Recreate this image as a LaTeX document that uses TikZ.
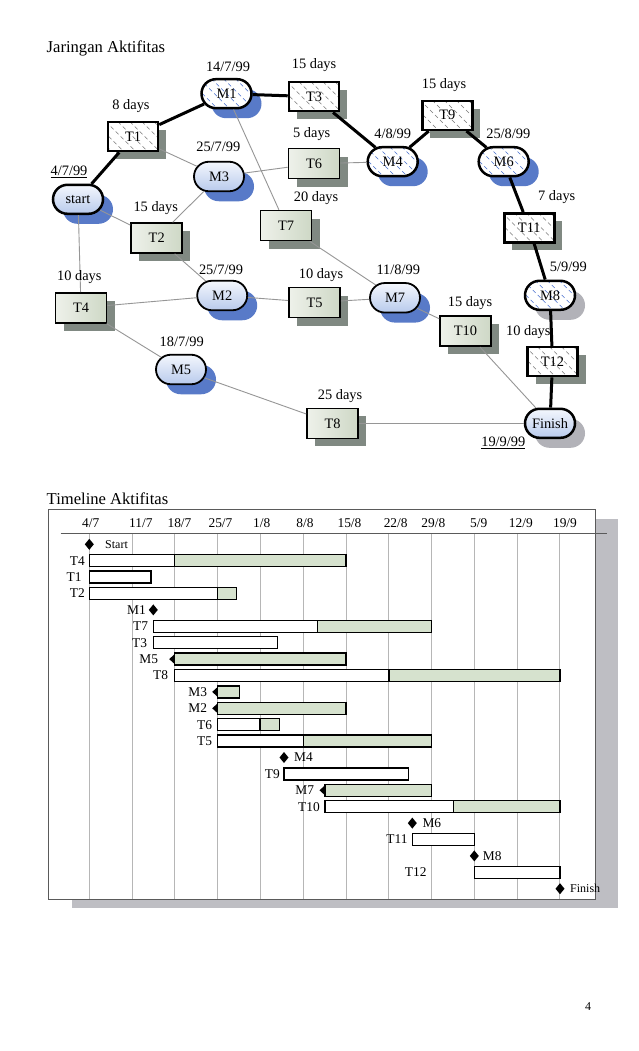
\documentclass[tikz,border=0pt]{standalone}
\usepackage{fontspec}
\setmainfont{Liberation Serif}
\usetikzlibrary{shapes.misc,shadows}
\definecolor{boxL}{RGB}{238,241,234}
\definecolor{boxR}{RGB}{206,216,198}
\definecolor{ellL}{RGB}{244,247,253}
\definecolor{ellD}{RGB}{184,202,236}
\definecolor{shgrey}{RGB}{128,137,130}
\definecolor{shblue}{RGB}{88,122,200}
\definecolor{shlight}{RGB}{178,178,184}
\definecolor{edgegrey}{RGB}{150,150,150}
\definecolor{hatchgrey}{RGB}{120,120,120}
\definecolor{hatchblue}{RGB}{70,110,205}
\definecolor{barfill}{RGB}{214,226,206}
\definecolor{gridgrey}{RGB}{182,182,182}
\definecolor{frameshadow}{RGB}{190,190,195}
\definecolor{framecol}{RGB}{90,90,90}
\newcommand\gbar[4]{\draw[gbar,fill=#4] (#1,#3-6) rectangle (#2,#3+6);}
\newcommand\gdiam[2]{\fill (#1-4.5,#2) -- (#1,#2-5.5) -- (#1+4.5,#2) -- (#1,#2+5.5) -- cycle;}
\newcommand\ghalf[2]{\fill (#1,#2-5) -- (#1-5.5,#2) -- (#1,#2+5) -- cycle;}
\tikzset{
  netfont/.style={font=\fontsize{14.4}{16}\selectfont},
  gfont/.style={font=\fontsize{13.4}{15}\selectfont},
  hatch/.style={path picture={\foreach \k in {-5,...,5}{\draw[#1,line width=0.6pt,dash pattern=on 4pt off 3pt] ([xshift=\k*12pt]path picture bounding box.center) ++(-30pt,30pt) -- ++(60pt,-60pt);}}},
  shg/.style={drop shadow={shadow xshift=8pt,shadow yshift=-8pt,fill=shgrey,opacity=1}},
  shb/.style={drop shadow={shadow xshift=10pt,shadow yshift=-10pt,fill=shblue,opacity=1}},
  shl/.style={drop shadow={shadow xshift=10pt,shadow yshift=-10pt,fill=shlight,opacity=1}},
  task/.style={rectangle, draw=black, line width=1.6pt, minimum width=51pt, minimum height=30pt, inner sep=0pt, left color=boxL, right color=boxR, shg, netfont},
  crittask/.style={rectangle, draw=black, line width=2.5pt, minimum width=50pt, minimum height=29pt, inner sep=0pt, fill=white, hatch=hatchgrey, shg, netfont},
  mile/.style={rounded rectangle, draw=black, line width=1.8pt, minimum width=50pt, minimum height=29.5pt, inner sep=0pt, top color=ellL, bottom color=ellD, shb, netfont},
  critmile/.style={rounded rectangle, draw=black, line width=2.5pt, minimum width=50pt, minimum height=29pt, inner sep=0pt, fill=white, hatch=hatchblue, netfont},
  endmile/.style={rounded rectangle, draw=black, line width=2.5pt, minimum width=50pt, minimum height=29pt, inner sep=0pt, top color=ellL, bottom color=ellD, netfont},
  lbl/.style={inner sep=0pt, netfont},
  crit/.style={line width=3pt, black},
  thin/.style={line width=0.9pt, edgegrey},
  gbar/.style={draw=black, line width=1.4pt},
  glbl/.style={inner sep=0pt, gfont},
}
\begin{document}
\begin{tikzpicture}[x=1pt,y=-1pt]
\useasboundingbox (0,0) rectangle (638,1051);
\fill[white] (0,0) rectangle (638,1051);
% ---------- network ----------
\node[anchor=base west, inner sep=0pt, font=\fontsize{16.6}{18}\selectfont] (title1) at (46.5,53) {Jaringan Aktifitas};

\node[endmile, shb] (start) at (78,199.3) {start};
\node[crittask] (T1) at (133,136.7) {T1};
\node[critmile, shb] (M1) at (226.5,93.7) {M1};
\node[crittask] (T3) at (314,96.7) {T3};
\node[critmile, shb] (M4) at (392.7,161.7) {M4};
\node[crittask] (T9) at (447.3,115.3) {T9};
\node[critmile, shb] (M6) at (503.7,161.7) {M6};
\node[crittask] (T11) at (529.3,227.8) {T11};
\node[critmile, shl] (M8) at (550,295.3) {M8};
\node[crittask] (T12) at (552.5,361.7) {T12};
\node[endmile, shl] (Finish) at (550,423.3) {Finish};
\node[task] (T2) at (156.7,238) {T2};
\node[task] (T4) at (81,307.8) {T4};
\node[mile] (M3) at (219,176.5) {M3};
\node[task] (T6) at (314,163.7) {T6};
\node[task] (T7) at (286,225.5) {T7};
\node[mile] (M2) at (222.2,295.5) {M2};
\node[task] (T5) at (314.5,302.5) {T5};
\node[mile] (M7) at (395,297.8) {M7};
\node[task] (T10) at (465.5,331.2) {T10};
\node[mile] (M5) at (181,369.5) {M5};
\node[task] (T8) at (332.5,423.3) {T8};

\draw[thin] (start) -- (T2);
\draw[thin] (start) -- (T4);
\draw[thin] (T1) -- (M3);
\draw[thin] (M1) -- (T7);
\draw[thin] (T2) -- (M3);
\draw[thin] (T2) -- (M2);
\draw[thin] (T4) -- (M2);
\draw[thin] (T4) -- (M5);
\draw[thin] (M3) -- (T6);
\draw[thin] (T6) -- (M4);
\draw[thin] (T7) -- (M7);
\draw[thin] (M2) -- (T5);
\draw[thin] (T5) -- (M7);
\draw[thin] (M7) -- (T10);
\draw[thin] (T10) -- (Finish);
\draw[thin] (M5) -- (T8);
\draw[thin] (T8) -- (Finish);

\draw[crit] (start) -- (T1);
\draw[crit] (T1) -- (M1);
\draw[crit] (M1) -- (T3);
\draw[crit] (T3) -- (M4);
\draw[crit] (M4) -- (T9);
\draw[crit] (T9) -- (M6);
\draw[crit] (M6) -- (T11);
\draw[crit] (T11) -- (M8);
\draw[crit] (M8) -- (T12);
\draw[crit] (T12) -- (Finish);

\node[lbl] (d0) at (69,172) {\underline{4/7/99}};
\node[lbl] (dT1) at (131,106) {8 days};
\node[lbl] (dM1) at (228,67.3) {14/7/99};
\node[lbl] (dT3) at (314,65) {15 days};
\node[lbl] (dM3) at (218.3,147.3) {25/7/99};
\node[lbl] (dT6) at (311.7,134) {5 days};
\node[lbl] (dM4) at (392.7,133.3) {4/8/99};
\node[lbl] (dT9) at (444,85) {15 days};
\node[lbl] (dM6) at (508.3,133.3) {25/8/99};
\node[lbl] (dT11) at (556.7,196.7) {7 days};
\node[lbl] (dM8) at (568.3,266.7) {5/9/99};
\node[lbl] (dT12) at (528.3,331.7) {10 days};
\node[lbl] (dF) at (503.3,442.7) {\underline{19/9/99}};
\node[lbl] (dT10) at (470,303.3) {15 days};
\node[lbl] (dM7) at (398.3,269.3) {11/8/99};
\node[lbl] (dT5) at (321,275) {10 days};
\node[lbl] (dT8) at (340,395.7) {25 days};
\node[lbl] (dM5) at (181.7,341.7) {18/7/99};
\node[lbl] (dM2) at (221,270) {25/7/99};
\node[lbl] (dT4) at (79.3,276.7) {10 days};
\node[lbl] (dT2) at (155.7,208.3) {15 days};
\node[lbl] (dT7) at (316,198.3) {20 days};

% ---------- timeline ----------
\node[anchor=base west, inner sep=0pt, font=\fontsize{16.6}{18}\selectfont] (title2) at (46.5,504.5) {Timeline Aktifitas};
\fill[frameshadow] (71.7,519.3) rectangle (618.3,908.3);
\draw[draw=framecol, fill=white, line width=1pt] (48.3,509.3) rectangle (595.7,899.3);
\foreach \k in {0,...,11}{\draw[gridgrey, line width=1pt] ({89.3+42.79*\k},533.3) -- ({89.3+42.79*\k},899.3);}
\draw[framecol, line width=1pt] (60.7,533.3) -- (607.3,533.3);
\node[glbl] (h1) at (90.8,523.3) {4/7};
\node[glbl] (h2) at (140.8,523.3) {11/7};
\node[glbl] (h3) at (179.5,523.3) {18/7};
\node[glbl] (h4) at (220.5,523.3) {25/7};
\node[glbl] (h5) at (261.7,523.3) {1/8};
\node[glbl] (h6) at (305,523.3) {8/8};
\node[glbl] (h7) at (349.5,523.3) {15/8};
\node[glbl] (h8) at (395.7,523.3) {22/8};
\node[glbl] (h9) at (433.3,523.3) {29/8};
\node[glbl] (h10) at (478.7,523.3) {5/9};
\node[glbl] (h11) at (520.8,523.3) {12/9};
\node[glbl] (h12) at (565,523.3) {19/9};

% rows
\gdiam{89.3}{544.3}
\node[glbl, anchor=west, font=\fontsize{12}{14}\selectfont] (gStart) at (105,544.3) {Start};
\gbar{89.3}{174.7}{560.7}{white}\gbar{174.7}{346}{560.7}{barfill}
\node[glbl, anchor=east] (gT4) at (85,560.7) {T4};
\gbar{89.3}{151}{577.1}{white}
\node[glbl, anchor=east] (gT1) at (81.7,577.1) {T1};
\gbar{89.3}{217.3}{593.5}{white}\gbar{217.3}{236.7}{593.5}{barfill}
\node[glbl, anchor=east] (gT2) at (85,593.5) {T2};
\gdiam{153.3}{609.9}
\node[glbl, anchor=east] (gM1) at (146,609.9) {M1};
\gbar{153.3}{317.3}{626.3}{white}\gbar{317.3}{431.7}{626.3}{barfill}
\node[glbl, anchor=east] (gT7) at (148.3,626.3) {T7};
\gbar{153.3}{277.3}{642.7}{white}
\node[glbl, anchor=east] (gT3) at (147.3,642.7) {T3};
\ghalf{174.7}{659.1}\gbar{174.7}{346}{659.1}{barfill}
\node[glbl, anchor=east] (gM5) at (158.3,659.1) {M5};
\gbar{174.7}{389}{675.5}{white}\gbar{389}{560}{675.5}{barfill}
\node[glbl, anchor=east] (gT8) at (168.3,675.5) {T8};
\ghalf{217.7}{691.9}\gbar{217.7}{239.3}{691.9}{barfill}
\node[glbl, anchor=east] (gM3) at (207.3,691.9) {M3};
\ghalf{217.7}{708.3}\gbar{217.7}{346}{708.3}{barfill}
\node[glbl, anchor=east] (gM2) at (207.3,708.3) {M2};
\gbar{217.7}{260}{724.7}{white}\gbar{260}{279.3}{724.7}{barfill}
\node[glbl, anchor=east] (gT6) at (212.3,724.7) {T6};
\gbar{217.7}{303.3}{741.1}{white}\gbar{303.3}{431.7}{741.1}{barfill}
\node[glbl, anchor=east] (gT5) at (212.3,741.1) {T5};
\gdiam{284}{757.5}
\node[glbl, anchor=west] (gM4) at (294,757.5) {M4};
\gbar{284}{408.3}{773.9}{white}
\node[glbl, anchor=east] (gT9) at (280,773.9) {T9};
\ghalf{325}{790.3}\gbar{325}{431.7}{790.3}{barfill}
\node[glbl, anchor=east] (gM7) at (314.3,790.3) {M7};
\gbar{325}{453.3}{806.7}{white}\gbar{453.3}{560}{806.7}{barfill}
\node[glbl, anchor=east] (gT10) at (320,806.7) {T10};
\gdiam{412.3}{823.1}
\node[glbl, anchor=west] (gM6) at (422.3,823.1) {M6};
\gbar{412.3}{474.3}{839.5}{white}
\node[glbl, anchor=east] (gT11) at (407.7,839.5) {T11};
\gdiam{474.3}{855.9}
\node[glbl, anchor=west] (gM8) at (482.7,855.9) {M8};
\gbar{474.3}{560}{872.3}{white}
\node[glbl, anchor=east] (gT12) at (426.7,872.3) {T12};
\gdiam{560}{888.7}
\node[glbl, anchor=west, font=\fontsize{12}{14}\selectfont] (gFinish) at (570,888.7) {Finish};

\node[inner sep=0pt, font=\fontsize{12}{14}\selectfont] (page) at (588,1006.7) {4};
\end{tikzpicture}
\end{document}
